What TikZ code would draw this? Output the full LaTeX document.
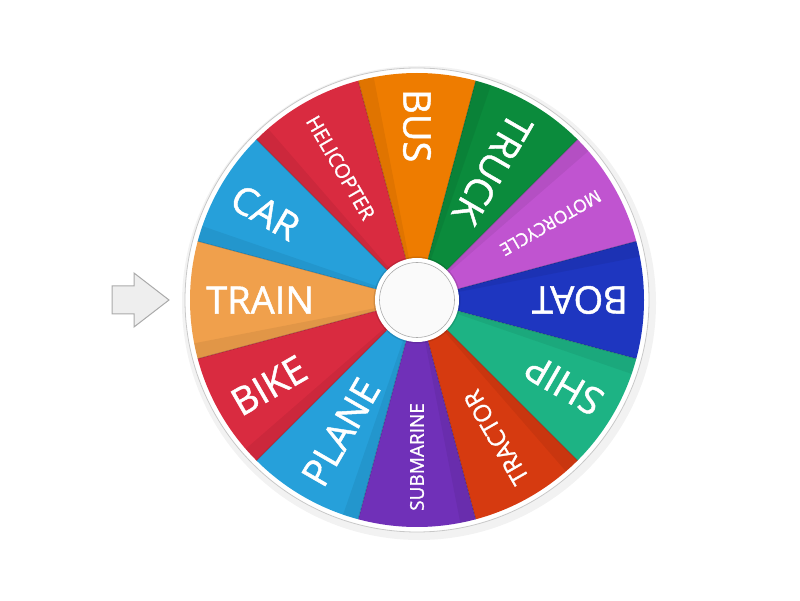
\documentclass[tikz,border=0pt]{standalone}
\usepackage{fontspec}
\setmainfont{Open Sans}
\newfontfamily\wheelfont{Open Sans}[FakeBold=1.2]
\usetikzlibrary{calc}
\definecolor{TrainOrange}{RGB}{240,160,76}
\definecolor{CarBlue}{RGB}{38,160,218}
\definecolor{HeliRed}{RGB}{217,43,64}
\definecolor{BusOrange}{RGB}{238,124,0}
\definecolor{TruckGreen}{RGB}{11,139,60}
\definecolor{MotoPurple}{RGB}{192,84,208}
\definecolor{BoatBlue}{RGB}{30,54,192}
\definecolor{ShipGreen}{RGB}{29,179,132}
\definecolor{TractorRed}{RGB}{214,58,16}
\definecolor{SubPurple}{RGB}{112,48,184}
\definecolor{RimGray}{RGB}{200,200,200}
\definecolor{ArrowFill}{RGB}{238,238,238}
\definecolor{ArrowLine}{RGB}{170,170,170}

\begin{document}
\begin{tikzpicture}[x=1pt,y=1pt,
    word/.style={text=white,inner sep=0pt,anchor=west},
    edge/.style={black,opacity=0.22,line width=0.8pt},
    pointer/.style={draw=ArrowLine,fill=ArrowFill,line width=1pt,line join=miter}]
  \useasboundingbox (0,0) rectangle (800,600);
  \coordinate (hub) at (417,300);

  % soft shadow and white rim
  \fill[black,opacity=0.05] ($(hub)+(2,-3)$) circle (237);
  \draw[RimGray,fill=white,line width=0.8pt] (hub) circle (232);

  % slices
  \foreach \a/\col/\txt/\sz [count=\i] in {
      180/TrainOrange/TRAIN/38, 150/CarBlue/CAR/38, 120/HeliRed/HELICOPTER/20,
      90/BusOrange/BUS/38, 60/TruckGreen/TRUCK/38, 30/MotoPurple/MOTORCYCLE/17.5,
      0/BoatBlue/BOAT/38, -30/ShipGreen/SHIP/38, -60/TractorRed/TRACTOR/24,
      -90/SubPurple/SUBMARINE/19, -120/CarBlue/PLANE/38, -150/HeliRed/BIKE/38} {
    \fill[\col] (hub) -- ++(\a-15:227) arc[start angle=\a-15,end angle=\a+15,radius=227] -- cycle;
    \fill[black,opacity=0.06] (hub) -- ++(\a+11:227) arc[start angle=\a+11,end angle=\a+15,radius=227] -- cycle;
    \node[word,rotate=\a-180,font=\wheelfont\fontsize{\sz}{\sz}\selectfont] (w\i) at ($(hub)+(\a:211)$) {\txt};
  }
  \foreach \a in {15,45,...,345}
    \draw[edge] ($(hub)+(\a:44)$) -- ($(hub)+(\a:227)$);

  % centre cap
  \fill[black,opacity=0.12] (hub) circle (43.5);
  \fill[white] (hub) circle (42);
  \draw[ArrowLine,fill=black!2,line width=0.6pt] (hub) circle (37.5);

  % pointer
  \draw[pointer] (112,286) -- (134,286) -- (134,273) -- (169,300)
    -- (134,327) -- (134,314) -- (112,314) -- cycle;
\end{tikzpicture}
\end{document}
